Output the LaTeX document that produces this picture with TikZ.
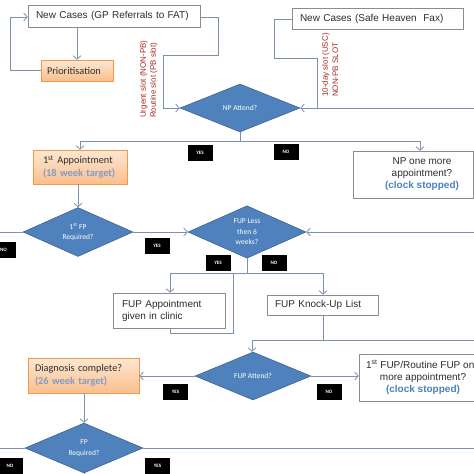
\documentclass[tikz,border=0pt]{standalone}
\usepackage{fontspec}
\setmainfont{Liberation Sans}
\newfontfamily\calib{Carlito}
\usetikzlibrary{shapes.geometric,arrows.meta}
\definecolor{ln}{RGB}{125,145,175}
\definecolor{boxgray}{RGB}{140,140,140}
\definecolor{txt}{RGB}{45,45,45}
\definecolor{orng}{RGB}{247,150,70}
\definecolor{otop}{RGB}{253,232,212}
\definecolor{obot}{RGB}{250,190,140}
\definecolor{dfill}{RGB}{79,129,189}
\definecolor{dborder}{RGB}{56,93,138}
\definecolor{redT}{RGB}{170,40,40}
\definecolor{blueT}{RGB}{79,129,189}
\definecolor{paleT}{RGB}{130,155,195}
\begin{document}
\begin{tikzpicture}[x=1pt,y=-1pt,
  conn/.style={draw=ln, line width=0.8pt},
  arr/.style={conn,-{Straight Barb[length=3.5pt,width=8pt]}},
  wbox/.style={draw=boxgray, fill=white, line width=0.6pt, inner ysep=0pt, align=left, text=txt, font=\fontsize{10}{12}\selectfont},
  obox/.style={draw=orng, top color=otop, bottom color=obot, line width=0.6pt, inner ysep=0pt, align=left, text=txt, font=\calib\fontsize{10.3}{13}\selectfont},
  dia/.style={diamond, draw=dborder, fill=dfill, line width=0.5pt, inner sep=0pt, text=white, align=center, font=\calib\fontsize{7.5}{10.5}\selectfont},
  tag/.style={fill=black, text=white, inner sep=0pt, minimum width=25pt, minimum height=16pt, font=\calib\bfseries\fontsize{5}{6}\selectfont},
  rot/.style={rotate=90, anchor=north west, align=left, inner sep=0pt, text=redT, font=\fontsize{8}{10}\selectfont}
]
\useasboundingbox (0,0) rectangle (474,474);
\clip (0,0) rectangle (474,474);

% boxes
\node[wbox, inner xsep=8pt, text width=156pt, minimum height=22pt] (gp) at (114,16) {New Cases (GP Referrals to FAT)};
\node[obox, inner xsep=6pt, text width=60pt, minimum height=21pt] (prio) at (77,70.5) {Prioritisation};
\node[wbox, inner xsep=8pt, text width=155pt, minimum height=21pt] (sh) at (377.5,18.5) {New Cases (Safe Heaven\ \ Fax)};
\node[dia, minimum width=120pt, minimum height=48pt] (np) at (240,108) {NP Attend?};

\node[rot] (lblL) at (140,118) {Urgent slot (NON-PB)\\Routine slot (PB slot)};
\node[rot] (lblR) at (322,97) {10-day slot (USC)\\NON-PB SLOT};

\node[obox, inner xsep=10pt, text width=74pt, minimum height=34pt] (ap1) at (80,167) {1\textsuperscript{st} Appointment\\{\bfseries\color{paleT}(18 week target)}};
\node[draw=boxgray, fill=white, line width=0.6pt, minimum width=120pt, minimum height=47pt] (npm) at (413,174.5) {};
\node[align=center, text=txt, font=\fontsize{10}{12}\selectfont, inner sep=0pt] (npmt) at (422,174.5) {NP one more\\appointment?\\{\bfseries\color{blueT}(clock stopped)}};

\node[dia, minimum width=110pt, minimum height=48pt] (fp1) at (78,232) {1\textsuperscript{st} FP\\Required?};
\node[dia, minimum width=118pt, minimum height=48pt] (fl) at (247,232) {FUP Less\\then 6\\weeks?};

\node[wbox, inner xsep=9pt, text width=94pt, minimum height=35pt] (fa) at (169,310.5) {FUP Appointment\\given in clinic};
\node[wbox, inner xsep=8pt, text width=95pt, minimum height=20pt] (ku) at (322.5,305) {FUP Knock-Up List};

\node[dia, minimum width=116pt, minimum height=48pt] (att) at (253,376) {FUP Attend?};
\node[obox, inner xsep=7pt, text width=97pt, minimum height=35pt] (dg) at (83.5,375.5) {Diagnosis complete?\\{\bfseries\color{paleT}(26 week target)}};
\node[draw=boxgray, fill=white, line width=0.6pt, align=center, text=txt, font=\fontsize{10}{12}\selectfont, minimum width=128pt, minimum height=47pt, inner sep=0pt] (f1) at (423,377.5) {1\textsuperscript{st} FUP/Routine FUP one\\more appointment?\\{\bfseries\color{blueT}(clock stopped)}};

\node[dia, minimum width=118pt, minimum height=50pt] (fp2) at (84,448) {FP\\Required?};

% helper coordinates
\coordinate (lt) at (10,17);
\coordinate (lb) at (10,70.5);
\coordinate (r1) at (218,17);
\coordinate (r2) at (218,55);
\coordinate (r3) at (163,55);
\coordinate (r4) at (163,108);
\coordinate (s1) at (274,19);
\coordinate (s2) at (274,58);
\coordinate (s3) at (317,58);
\coordinate (s4) at (317,108);
\coordinate (eR1) at (474,108);
\coordinate (j1) at (240,141);
\coordinate (j1l) at (80,141);
\coordinate (j1r) at (420,141);
\coordinate (eL2) at (0,232);
\coordinate (eR2) at (474,232);
\coordinate (j2) at (247,273);
\coordinate (j2l) at (170,273);
\coordinate (j2r) at (323,273);
\coordinate (k1) at (323,340);
\coordinate (k2) at (252,340);
\coordinate (eR3) at (474,340);
\coordinate (fa1) at (170,333);
\coordinate (fa2) at (233,333);
\coordinate (fa3) at (233,273);
\coordinate (eL4) at (0,448);
\coordinate (eR4) at (474,448);
\coordinate (eB4) at (84,480);

% connectors
\draw[arr] (prio.west) -- (lb) -- (lt) -- (gp.west |- lt);
\draw[arr] (gp.south -| prio.north) -- (prio.north);
\draw[arr] (gp.east |- r1) -- (r1) -- (r2) -- (r3) -- (r4) -- (np.west);
\draw[conn] (sh.west |- s1) -- (s1) -- (s2) -- (s3) -- (s4);
\draw[arr] (eR1) -- (np.east);
\draw[conn] (np.south) -- (j1);
\draw[conn] (j1l) -- (j1r);
\draw[arr] (j1l) -- (ap1.north -| j1l);
\draw[arr] (j1r) -- (npm.north -| j1r);
\draw[arr] (ap1.south -| fp1.north) -- (fp1.north);
\draw[conn] (fp1.west) -- (eL2);
\draw[arr] (fp1.east) -- (fl.west);
\draw[arr] (eR2) -- (fl.east);
\draw[conn] (fl.south) -- (j2);
\draw[conn] (j2l) -- (j2r);
\draw[arr] (j2l) -- (fa.north -| j2l);
\draw[arr] (j2r) -- (ku.north -| j2r);
\draw[conn] (ku.south -| k1) -- (k1);
\draw[conn] (k2) -- (eR3);
\draw[arr] (k2) -- (att.north -| k2);
\draw[conn] (fa.south -| fa1) -- (fa1) -- (fa2) -- (fa3);
\draw[arr] (att.west) -- (dg.east |- att.west);
\draw[arr] (att.east) -- (f1.west |- att.east);
\draw[arr] (dg.south -| fp2.north) -- (fp2.north);
\draw[conn] (eL4) -- (fp2.west);
\draw[conn] (fp2.east) -- (eR4);
\draw[conn] (fp2.south) -- (eB4);

% yes / no tags
\node[tag] (t1) at (200,153) {YES};
\node[tag] (t2) at (286,152) {NO};
\node[tag] (t3) at (3.5,249.5) {NO};
\node[tag] (t4) at (157,246) {YES};
\node[tag] (t5) at (218,263) {YES};
\node[tag] (t6) at (274,263) {NO};
\node[tag] (t7) at (175.5,391.5) {YES};
\node[tag] (t8) at (329,391.5) {NO};
\node[tag] (t9) at (10,465.5) {NO};
\node[tag] (t10) at (157.5,465.5) {YES};
\end{tikzpicture}
\end{document}
